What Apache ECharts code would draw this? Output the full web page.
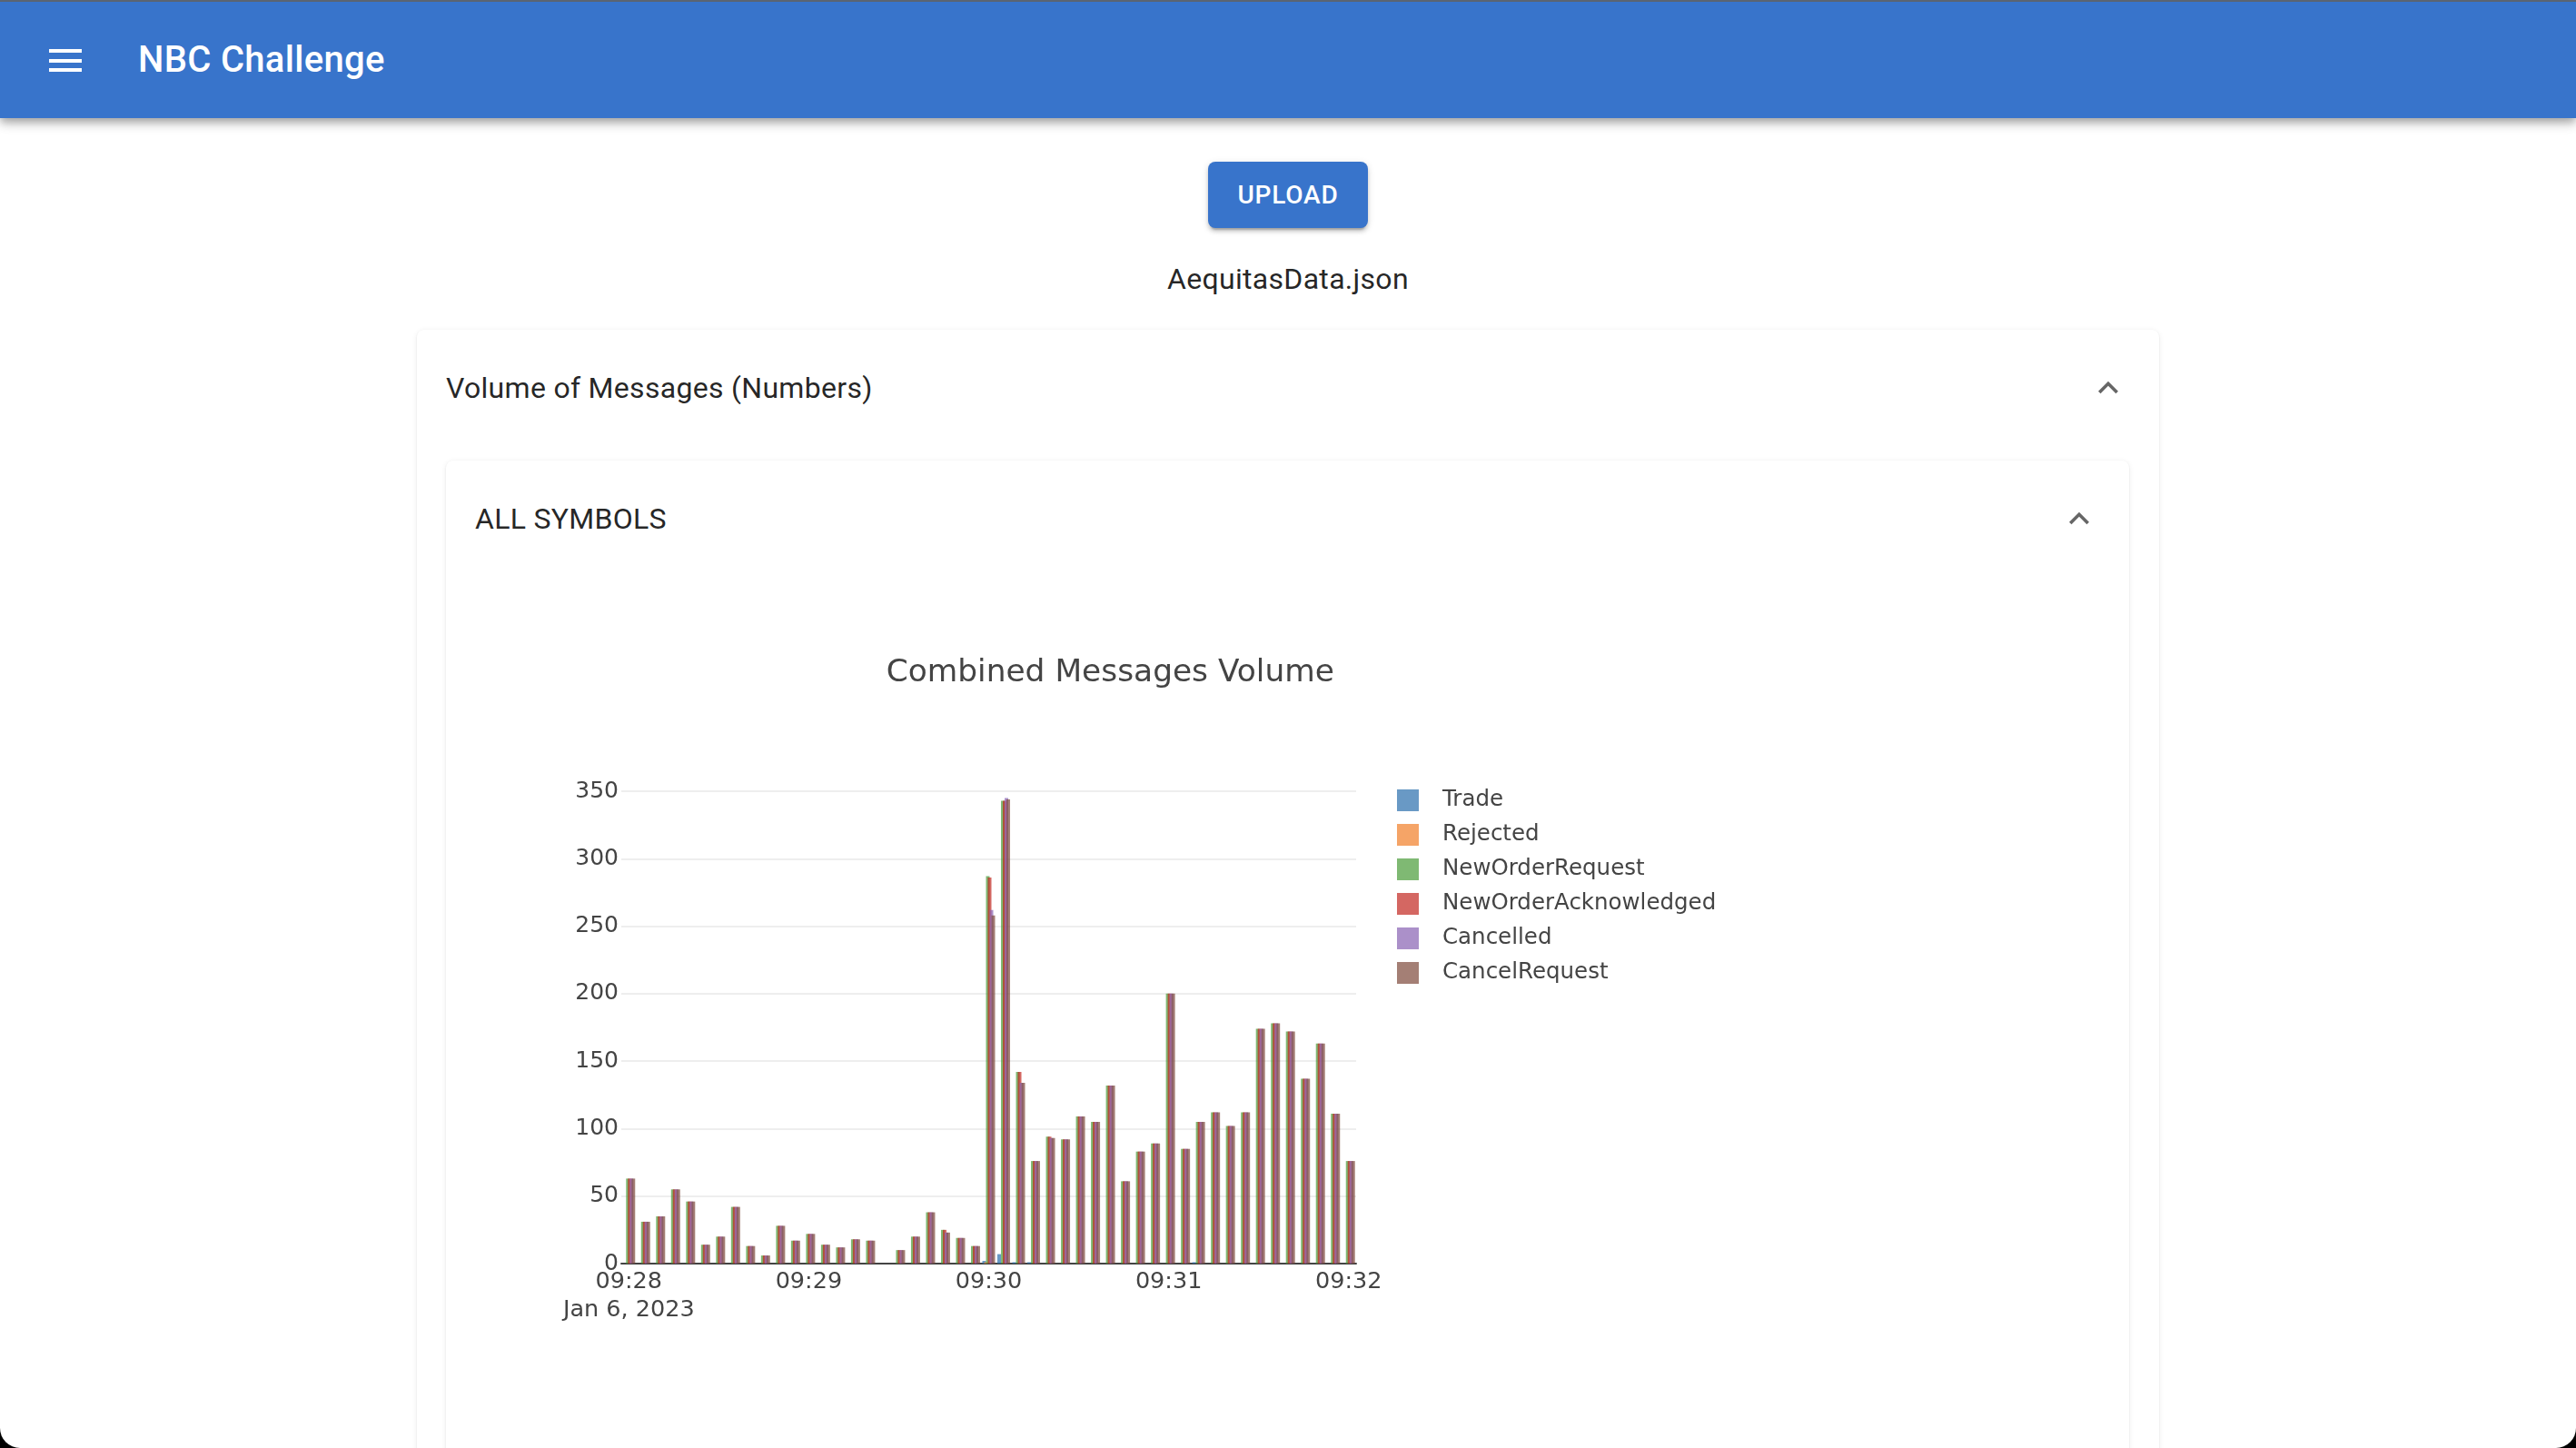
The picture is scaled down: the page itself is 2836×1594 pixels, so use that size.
<!DOCTYPE html>
<html>
<head>
<meta charset="utf-8">
<title>NBC Challenge</title>
<script src="https://cdn.jsdelivr.net/npm/echarts@6/dist/echarts.min.js"></script>
<style>
  html, body { margin: 0; width: 2836px; height: 1594px; overflow: hidden; background: #000; font-family: Roboto, sans-serif; color: rgba(0,0,0,.87); }
  #page { position: absolute; left: 0; top: 0; width: 2836px; height: 1594px; background: #fff; overflow: hidden; border-radius: 0 0 22px 22px; }
  #bar { position: absolute; left: 0; top: 0; width: 2836px; height: 130px; background: #3874cb; border-top: 2px solid #5a6472; box-sizing: border-box; box-shadow: 0 4px 8px -1px rgba(0,0,0,.2), 0 7px 10px 0 rgba(0,0,0,.14), 0 2px 18px 0 rgba(0,0,0,.12); z-index: 5; }
  #menu { position: absolute; left: 54px; top: 52px; width: 36px; height: 25px; }
  #menu i { display: block; height: 4px; background: #fff; margin-bottom: 6.5px; }
  #appname { position: absolute; left: 152px; top: 0; line-height: 127px; font-size: 40px; font-weight: 500; letter-spacing: 0.3px; color: #fff; }
  #upload { position: absolute; left: 1330px; top: 178px; width: 176px; height: 73px; border-radius: 8px; background: #3874cb; color: #fff; font-size: 28px; font-weight: 500; letter-spacing: 0.8px; text-align: center; line-height: 73px; box-shadow: 0 5px 2px -3px rgba(0,0,0,.2), 0 4px 4px 0 rgba(0,0,0,.14), 0 2px 8px 0 rgba(0,0,0,.12); }
  #file { position: absolute; left: 0; width: 2836px; top: 286px; text-align: center; font-size: 32px; line-height: 42px; letter-spacing: 0.3px; }
  .card { position: absolute; background: #fff; border-radius: 8px 8px 0 0; box-shadow: 0 2px 2px -1px rgba(0,0,0,.12), 0 1px 2px 0 rgba(0,0,0,.08), 0 1px 6px 0 rgba(0,0,0,.07); }
  #outer { left: 459px; top: 363px; width: 1918px; height: 1300px; }
  #inner { left: 491px; top: 507px; width: 1853px; height: 1200px; }
  .head { position: absolute; font-size: 32px; line-height: 40px; letter-spacing: 0.3px; }
  .chev { position: absolute; width: 44px; height: 44px; }
  #chart { position: absolute; left: 500px; top: 680px; width: 1400px; height: 800px; }
</style>
</head>
<body>
<div id="page">
  <div id="bar">
    <div id="menu"><i></i><i></i><i></i></div>
    <div id="appname">NBC Challenge</div>
  </div>
  <div id="upload">UPLOAD</div>
  <div id="file">AequitasData.json</div>
  <div class="card" id="outer"></div>
  <div class="card" id="inner"></div>
  <div class="head" style="left:491px;top:407px">Volume of Messages (Numbers)</div>
  <div class="head" style="left:523px;top:551px">ALL SYMBOLS</div>
  <svg class="chev" style="left:2299px;top:405px" viewBox="0 0 24 24"><path fill="rgba(0,0,0,.6)" d="M12 8l-6 6 1.41 1.41L12 10.83l4.59 4.58L18 14z"/></svg>
  <svg class="chev" style="left:2267px;top:549px" viewBox="0 0 24 24"><path fill="rgba(0,0,0,.6)" d="M12 8l-6 6 1.41 1.41L12 10.83l4.59 4.58L18 14z"/></svg>
  <div id="chart"></div>
</div>
<script>
// bins are 5 seconds apart
var categories = [
  '09:28:00','09:28:05','09:28:10','09:28:15','09:28:20','09:28:25','09:28:30','09:28:35','09:28:40','09:28:45','09:28:50','09:28:55',
  '09:29:00','09:29:05','09:29:10','09:29:15','09:29:20','09:29:25','09:29:30','09:29:35','09:29:40','09:29:45','09:29:50','09:29:55',
  '09:30:00','09:30:05','09:30:10','09:30:15','09:30:20','09:30:25','09:30:30','09:30:35','09:30:40','09:30:45','09:30:50','09:30:55',
  '09:31:00','09:31:05','09:31:10','09:31:15','09:31:20','09:31:25','09:31:30','09:31:35','09:31:40','09:31:45','09:31:50','09:31:55',
  '09:32:00'
];
var seriesNames = ['Trade', 'Rejected', 'NewOrderRequest', 'NewOrderAcknowledged', 'Cancelled', 'CancelRequest'];
var seriesColors = ['#2a6dac', '#f17e27', '#489b37', '#c2271f', '#8861b2', '#7d483a'];

var trade = [0,0,0,0,0,0,0,0,0,0,0,0, 0,0,0,0,0,0,0,0,0,0,0,0, 2,7,1,1,0,0,0,0,0,0,0,0, 0,0,1,0,0,0,0,0,0,0,0,0, 0];
var rejected = [0,0,0,0,0,0,0,0,0,0,0,0, 0,0,0,0,0,0,0,0,0,0,0,0, 1,0,0,0,0,0,0,0,0,0,0,0, 0,0,0,0,0,0,0,0,0,0,0,0, 0];
var newOrderRequest = [63,31,35,55,46,14,20,42,13,6,28,17, 22,14,12,18,17,0,10,20,38,25,19,13, 287,343,142,76,94,92,109,105,132,61,83,89, 200,85,105,112,102,112,174,178,172,137,163,111, 76];
var newOrderAcknowledged = [63,31,35,55,46,14,20,42,13,6,28,17, 22,14,12,18,17,0,10,20,38,25,19,13, 286,343,142,76,94,92,109,105,132,61,83,89, 200,85,105,112,102,112,174,178,172,137,163,111, 76];
var cancelled = [63,31,35,55,46,14,20,42,13,6,28,17, 22,14,12,18,17,0,10,20,38,23,19,13, 262,345,134,76,93,92,109,105,132,61,83,89, 200,85,105,112,102,112,174,178,172,137,163,111, 76];
var cancelRequest = [63,31,35,55,46,14,20,42,13,6,28,17, 22,14,12,18,17,0,10,20,38,23,19,13, 258,344,134,76,93,92,109,105,132,61,83,89, 200,85,105,112,102,112,174,178,172,137,163,111, 76];
var seriesValues = [trade, rejected, newOrderRequest, newOrderAcknowledged, cancelled, cancelRequest];

var yTicks = [0, 50, 100, 150, 200, 250, 300, 350];
var fontName = '"DejaVu Sans", Verdana, sans-serif';

var myChart = echarts.init(document.getElementById('chart'));
var option = {
  animation: false,
  title: {
    text: 'Combined Messages Volume',
    left: 717.3,
    textAlign: 'center',
    top: 39,
    textStyle: { fontFamily: fontName, fontSize: 34.4, fontWeight: 'normal', color: '#444' }
  },
  legend: {
    orient: 'vertical',
    left: 1033,
    top: 180,
    itemWidth: 24,
    itemHeight: 24,
    itemGap: 6,
    icon: 'rect',
    data: seriesNames,
    textStyle: { fontFamily: fontName, fontSize: 24.5, lineHeight: 24, color: '#444', padding: [8, 0, 0, 21] }
  },
  grid: { left: 184, top: 191, width: 809, height: 520 },
  xAxis: {
    type: 'category',
    data: categories,
    axisTick: { show: false },
    axisLine: { lineStyle: { color: '#444', width: 2 } },
    axisLabel: {
      interval: 11,
      margin: 5,
      fontFamily: fontName,
      fontSize: 25.5,
      lineHeight: 31,
      color: '#444',
      formatter: function (value) {
        var label = value.slice(0, 5);
        return value === categories[0] ? label + '\nJan 6, 2023' : label;
      }
    }
  },
  yAxis: {
    type: 'value',
    min: yTicks[0],
    max: yTicks[yTicks.length - 1],
    interval: 50,
    axisLine: { show: false },
    axisTick: { show: false },
    axisLabel: { margin: 3, fontFamily: fontName, fontSize: 25, color: '#444' },
    splitLine: { lineStyle: { color: '#eee', width: 2 } }
  },
  series: seriesNames.map(function (name, i) {
    return {
      name: name,
      type: 'bar',
      data: seriesValues[i],
      barWidth: 4,
      barGap: '-50%',
      itemStyle: { color: seriesColors[i], opacity: 0.7 }
    };
  })
};
myChart.setOption(option);
</script>
</body>
</html>
